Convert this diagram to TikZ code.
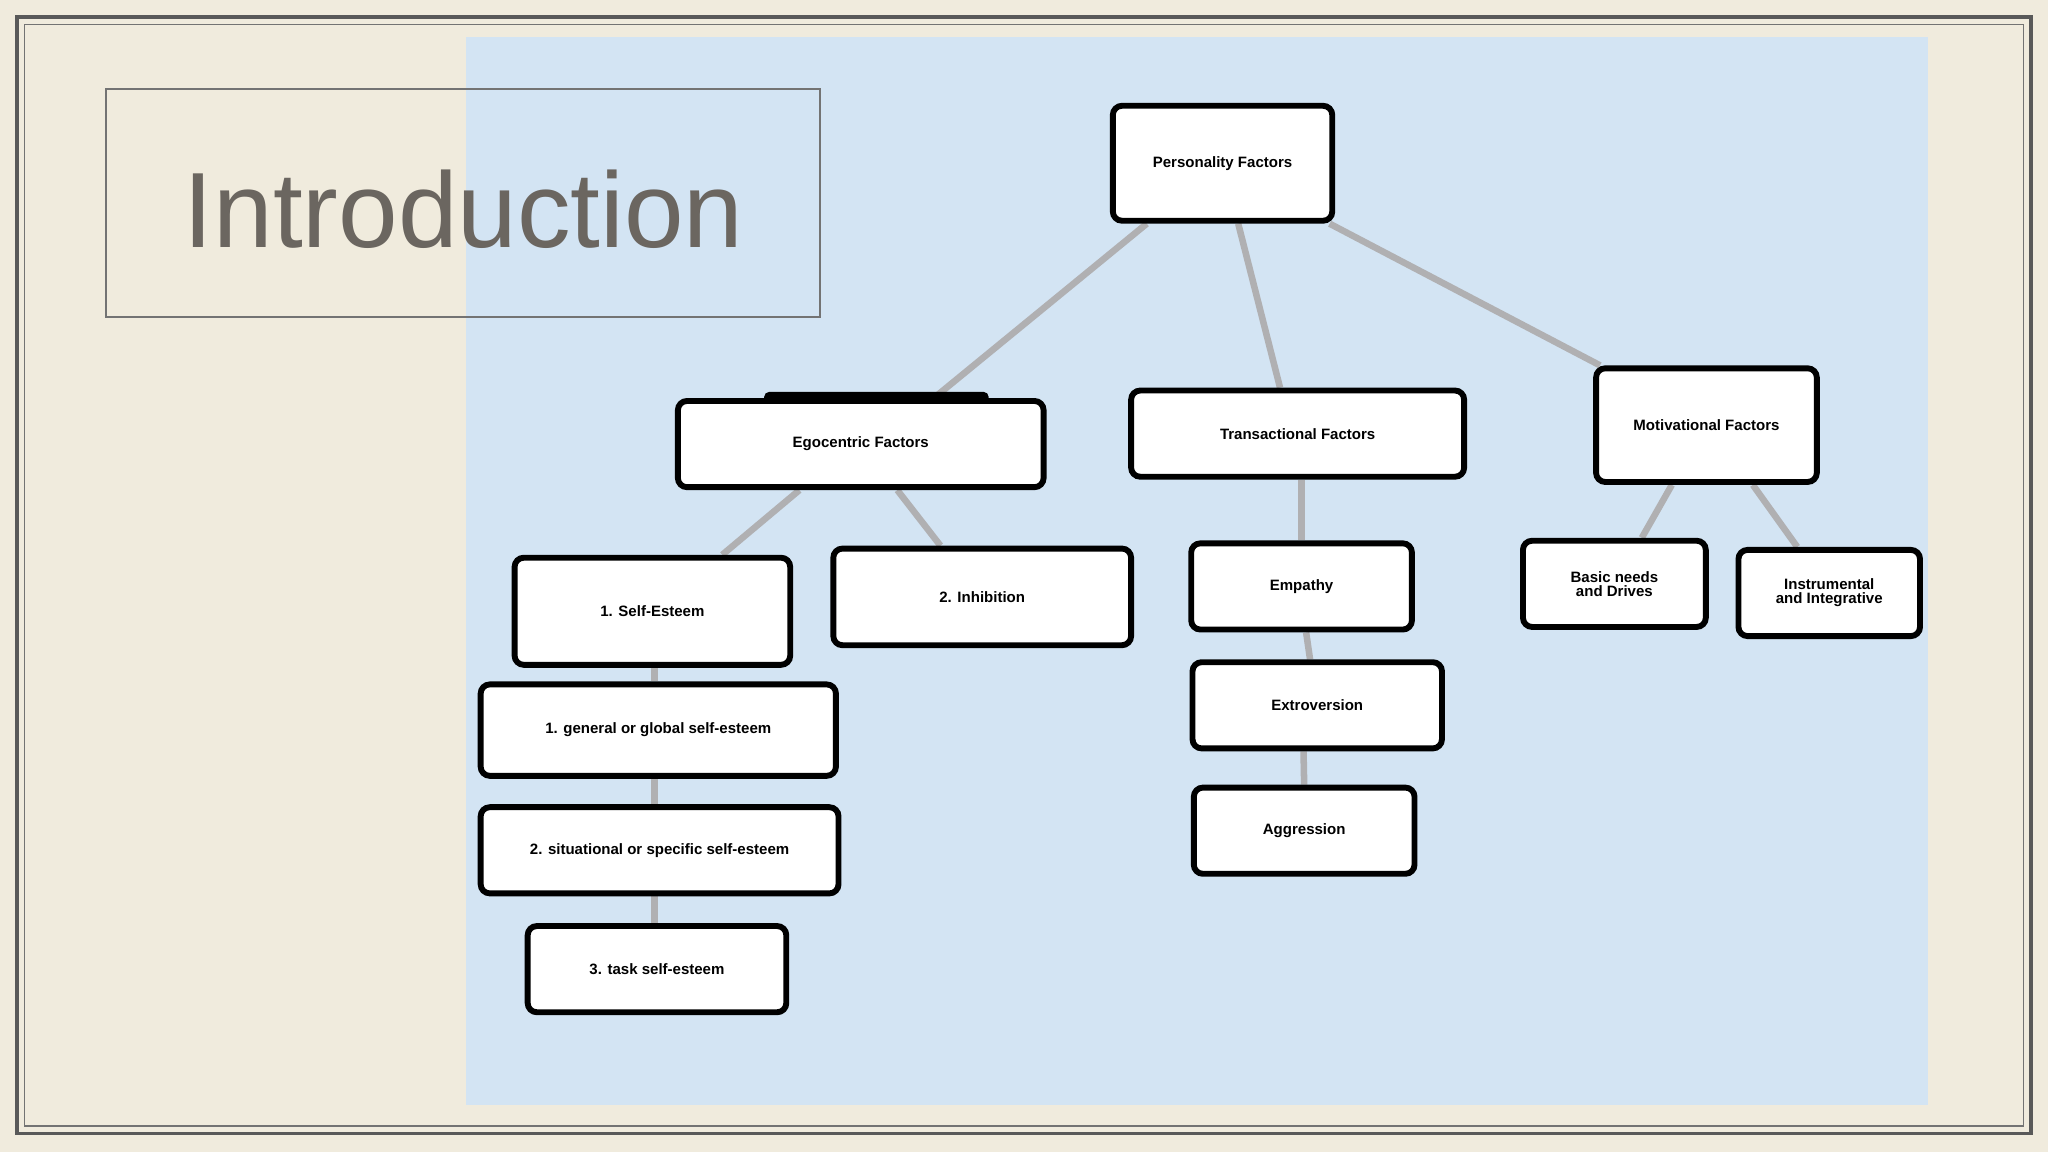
\documentclass[tikz,border=0pt]{standalone}
\usepackage{fontspec}
\setmainfont{Liberation Sans}
\usetikzlibrary{backgrounds}
\definecolor{beige}{HTML}{F0EBDD}
\definecolor{panel}{HTML}{D3E4F3}
\definecolor{edge}{HTML}{B0B0B2}
\definecolor{titlegrey}{HTML}{6B6660}
\tikzset{
  box/.style={draw=black, line width=4.5pt, fill=white, rounded corners=7pt, font=\bfseries\fontsize{11.5}{12.5}\selectfont, align=center, inner sep=0pt},
  conn/.style={draw=edge, line width=5pt}
}
\newcommand{\bx}[6]{\node[box, minimum width={#4-#2}, minimum height={#5-#3}] (#1) at ({(#2+#4)/2},{(#3+#5)/2}) {#6};}
\begin{document}
\begin{tikzpicture}[x=1pt,y=-1pt]
\useasboundingbox (0,0) rectangle (1568,882);
\draw[line width=2.5pt, draw=black!65] (13,13) rectangle (1555,868);
\draw[line width=1pt, draw=black!55] (19,19) rectangle (1549,862);
\draw[line width=1.5pt, draw=black!55] (81,68) rectangle (628,243);
\node[font=\fontsize{82}{84}\selectfont, text=titlegrey] (title) at (355,160) {Introduction};

\fill[black, rounded corners=4pt] (585,300) rectangle (757,312);
\bx{pf}{852}{81}{1020}{169}{Personality Factors}
\bx{ego}{519}{307}{799}{373}{Egocentric Factors}
\bx{tf}{866}{299}{1121}{365}{Transactional Factors}
\bx{mf}{1222}{282}{1391}{369}{Motivational Factors}
\bx{se}{394}{427}{605}{509}{1. Self-Esteem}
\bx{inh}{638}{420}{866}{494}{2. Inhibition}
\bx{emp}{912}{416}{1081}{482}{Empathy}
\bx{ext}{913}{507}{1104}{573}{Extroversion}
\bx{agg}{914}{603}{1083}{669}{Aggression}
\bx{bn}{1166}{414}{1306}{480}{Basic needs\\[-2pt]and Drives}
\bx{ii}{1331}{421}{1470}{487}{Instrumental\\[-2pt]and Integrative}
\bx{gen}{368}{524}{640}{594}{1. general or global self-esteem}
\bx{sit}{368}{618}{642}{684}{2. situational or specific self-esteem}
\bx{task}{404}{709}{602}{775}{3. task self-esteem}

\begin{scope}[on background layer]
\fill[beige] (0,0) rectangle (1568,882);
\fill[panel] (357,28) rectangle (1476,846);
\draw[conn] ([xshift=-58]pf.south) -- ([xshift=56]ego.north);
\draw[conn] ([xshift=12]pf.south) -- ([xshift=-13.5]tf.north);
\draw[conn] ([xshift=82]pf.south) -- ([xshift=-81.5]mf.north);
\draw[conn] ([xshift=-47]ego.south) -- ([xshift=53.5]se.north);
\draw[conn] ([xshift=28]ego.south) -- ([xshift=-32]inh.north);
\draw[conn] ([xshift=3]tf.south) -- (emp.north);
\draw[conn] ([xshift=3.5]emp.south) -- ([xshift=-5.5]ext.north);
\draw[conn] ([xshift=-10.5]ext.south) -- (agg.north);
\draw[conn] ([xshift=-26.5]mf.south) -- ([xshift=21]bn.north);
\draw[conn] ([xshift=35.5]mf.south) -- ([xshift=-24.5]ii.north);
\draw[conn] ([xshift=1.5]se.south) -- ([xshift=-3]gen.north);
\draw[conn] ([xshift=-3]gen.south) -- ([xshift=-4]sit.north);
\draw[conn] ([xshift=-4]sit.south) -- ([xshift=-2]task.north);
\end{scope}
\end{tikzpicture}
\end{document}
